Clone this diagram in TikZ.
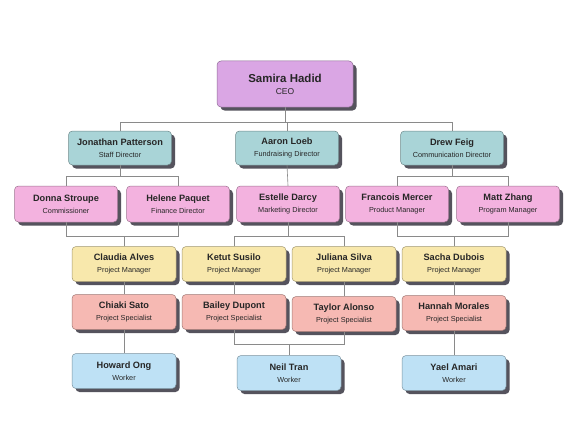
\documentclass[tikz,border=0pt]{standalone}
\usepackage{fontspec}
\setmainfont{Liberation Sans}
\usetikzlibrary{shadows}
\definecolor{ceoC}{HTML}{DAA6E4}
\definecolor{tealC}{HTML}{A9D4D7}
\definecolor{pinkC}{HTML}{F3B2DF}
\definecolor{yelC}{HTML}{F8E8AC}
\definecolor{salC}{HTML}{F6B9B3}
\definecolor{bluC}{HTML}{BEE1F5}
\definecolor{shC}{HTML}{55535D}
\definecolor{lineC}{HTML}{8A8A8A}
\newcommand\orgnm[2]{{\fontsize{9.2}{11}\selectfont\bfseries #1}\\[0pt]{\fontsize{7.3}{8.5}\selectfont #2}}
\tikzset{
  box/.style={rounded corners=4pt, draw=#1!65!black, line width=0.5pt, fill=#1,
    minimum width=104pt, minimum height=35pt, inner sep=0pt, align=center,
    text=black!85, drop shadow={shadow xshift=3.5pt, shadow yshift=-3.5pt, fill=shC, opacity=1}},
  conn/.style={draw=lineC, line width=0.6pt}
}
\begin{document}
\begin{tikzpicture}[x=1pt,y=-1pt]
\fill[white] (0,0) rectangle (577,433);
\useasboundingbox (0,0) rectangle (577,433);
\node[box=ceoC, minimum width=136pt, minimum height=46pt] (ceo) at (285,84)
  {{\fontsize{11.5}{13.5}\selectfont\bfseries Samira Hadid}\\{\fontsize{8.5}{10}\selectfont CEO}};
\node[box=tealC, minimum width=103pt, minimum height=34pt] (jon) at (120,148) {\orgnm{Jonathan Patterson}{Staff Director}};
\node[box=tealC, minimum width=103pt, minimum height=34pt] (aaron) at (287,148) {\orgnm{Aaron Loeb}{Fundraising Director}};
\node[box=tealC, minimum width=103pt, minimum height=34pt] (drew) at (452,148) {\orgnm{Drew Feig}{Communication Director}};
\node[box=pinkC, minimum width=103pt, minimum height=36pt] (donna) at (66,204) {\orgnm{Donna Stroupe}{Commissioner}};
\node[box=pinkC, minimum width=103pt, minimum height=36pt] (helene) at (178,204) {\orgnm{Helene Paquet}{Finance Director}};
\node[box=pinkC, minimum width=103pt, minimum height=36pt] (estelle) at (288,204) {\orgnm{Estelle Darcy}{Marketing Director}};
\node[box=pinkC, minimum width=103pt, minimum height=36pt] (francois) at (397,204) {\orgnm{Francois Mercer}{Product Manager}};
\node[box=pinkC, minimum width=103pt, minimum height=36pt] (matt) at (508,204) {\orgnm{Matt Zhang}{Program Manager}};
\node[box=yelC] (claudia) at (124,264) {\orgnm{Claudia Alves}{Project Manager}};
\node[box=yelC] (ketut) at (234,264) {\orgnm{Ketut Susilo}{Project Manager}};
\node[box=yelC] (juliana) at (344,264) {\orgnm{Juliana Silva}{Project Manager}};
\node[box=yelC] (sacha) at (454,264) {\orgnm{Sacha Dubois}{Project Manager}};
\node[box=salC] (chiaki) at (124,312) {\orgnm{Chiaki Sato}{Project Specialist}};
\node[box=salC] (bailey) at (234,312) {\orgnm{Bailey Dupont}{Project Specialist}};
\node[box=salC] (taylor) at (344,314) {\orgnm{Taylor Alonso}{Project Specialist}};
\node[box=salC] (hannah) at (454,313) {\orgnm{Hannah Morales}{Project Specialist}};
\node[box=bluC] (howard) at (124,371) {\orgnm{Howard Ong}{Worker}};
\node[box=bluC] (neil) at (289,373) {\orgnm{Neil Tran}{Worker}};
\node[box=bluC] (yael) at (454,373) {\orgnm{Yael Amari}{Worker}};
\coordinate (b1) at (0,122);
\coordinate (b2) at (0,176);
\coordinate (b3) at (0,236);
\coordinate (b5) at (0,344);
\draw[conn] (ceo.south) -- (ceo.south |- b1);
\draw[conn] (jon.north) -- (jon.north |- b1) -- (drew.north |- b1) -- (drew.north);
\draw[conn] (aaron.north |- b1) -- (aaron.north);
\draw[conn] (jon.south) -- (jon.south |- b2);
\draw[conn] (donna.north) -- (donna.north |- b2) -- (helene.north |- b2) -- (helene.north);
\draw[conn] (aaron.south) -- (estelle.north);
\draw[conn] (drew.south) -- (drew.south |- b2);
\draw[conn] (francois.north) -- (francois.north |- b2) -- (matt.north |- b2) -- (matt.north);
\draw[conn] (donna.south) -- (donna.south |- b3) -- (helene.south |- b3) -- (helene.south);
\draw[conn] (claudia.north) -- (claudia.north |- b3);
\draw[conn] (estelle.south) -- (estelle.south |- b3);
\draw[conn] (ketut.north) -- (ketut.north |- b3) -- (juliana.north |- b3) -- (juliana.north);
\draw[conn] (francois.south) -- (francois.south |- b3) -- (matt.south |- b3) -- (matt.south);
\draw[conn] (sacha.north) -- (sacha.north |- b3);
\draw[conn] (claudia.south) -- (chiaki.north);
\draw[conn] (ketut.south) -- (bailey.north);
\draw[conn] (juliana.south) -- (taylor.north);
\draw[conn] (sacha.south) -- (hannah.north);
\draw[conn] (chiaki.south) -- (howard.north);
\draw[conn] (bailey.south) -- (bailey.south |- b5) -- (taylor.south |- b5) -- (taylor.south);
\draw[conn] (neil.north) -- (neil.north |- b5);
\draw[conn] (hannah.south) -- (yael.north);
\end{tikzpicture}
\end{document}
